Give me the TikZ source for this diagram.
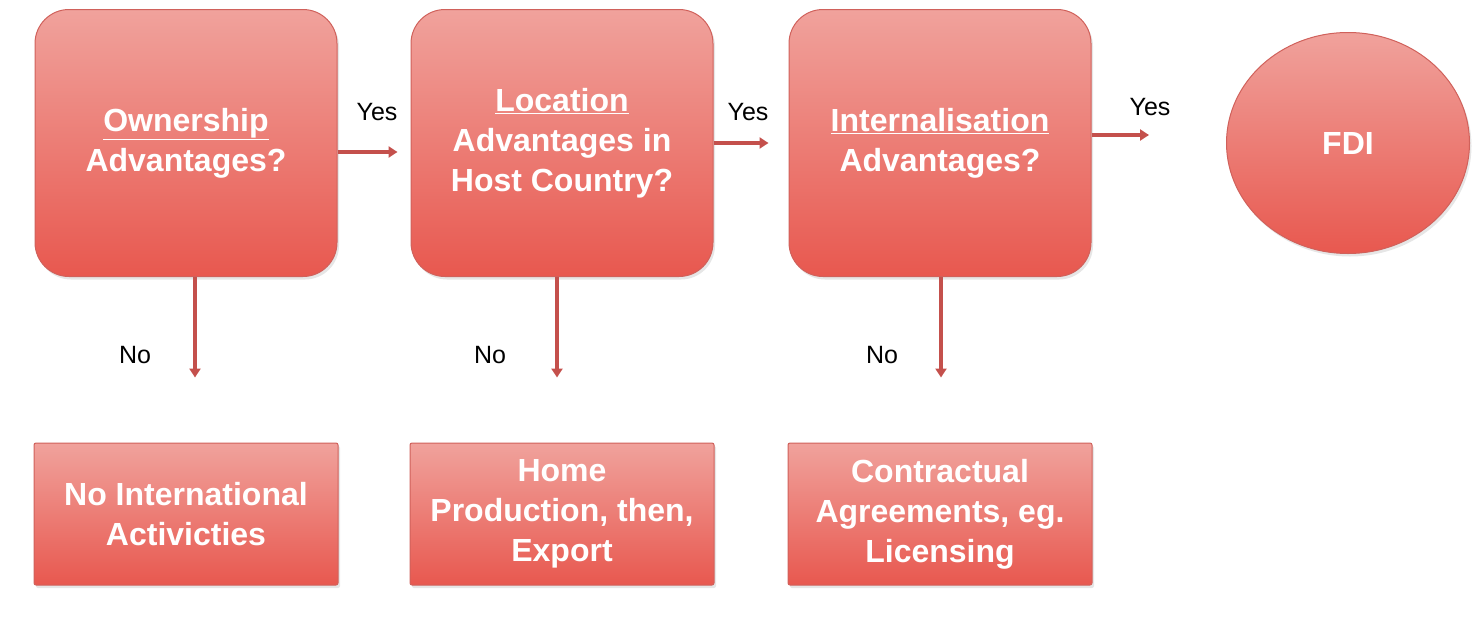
\documentclass[tikz,border=0pt]{standalone}
\usepackage{fontspec}
\setmainfont{Liberation Sans}
\usetikzlibrary{positioning,shapes.geometric,shadows,arrows.meta}
\definecolor{boxtop}{HTML}{F0A29C}
\definecolor{boxbot}{HTML}{E8584F}
\definecolor{boxline}{HTML}{D0615B}
\definecolor{arrred}{HTML}{C4504C}

\begin{document}
\begin{tikzpicture}[x=1pt,y=-1pt]
  \tikzstyle{ask node}=[rectangle,rounded corners=34,draw=boxline,line width=1pt,
    top color=boxtop,bottom color=boxbot,minimum width=302,minimum height=267,
    inner sep=0,align=center,text=white,font=\fontsize{32}{40}\selectfont\bfseries,
    drop shadow={opacity=0.2,shadow xshift=2pt,shadow yshift=-3pt}]
  \tikzstyle{end node}=[ask node,rounded corners=2,minimum width=304,minimum height=142]
  \tikzstyle{fdi node}=[ellipse,draw=boxline,line width=1pt,top color=boxtop,
    bottom color=boxbot,minimum width=243,minimum height=221,inner sep=0,
    text=white,font=\fontsize{32}{40}\selectfont\bfseries,
    drop shadow={opacity=0.2,shadow xshift=2pt,shadow yshift=-3pt}]
  \tikzstyle{arr}=[draw=arrred,line width=4pt,-{Triangle[length=9pt,width=11pt]}]
  \tikzstyle{lab}=[font=\fontsize{25}{30}\selectfont,inner sep=0]
  \useasboundingbox (0,0) rectangle (1475,624);
  % top row
  \node(own)[ask node] at (186,143){\underline{Ownership}\\Advantages?};
  \node(loc)[ask node,right=73 of own]{\underline{Location}\\Advantages in\\Host Country?};
  \node(int)[ask node,right=75 of loc]{\underline{Internalisation}\\Advantages?};
  \node(fdi)[fdi node] at (1348,143){FDI};
  % bottom row
  \node(none)[end node] at (own |- 0,514){No International\\Activicties};
  \node(exp)[end node] at (loc |- 0,514){Home\\Production, then,\\Export};
  \node(lic)[end node] at (int |- 0,514){Contractual\\Agreements, eg.\\Licensing};
  % yes
  \draw[arr] ([yshift=-9pt]own.east) -- ([xshift=-13pt,yshift=-9pt]loc.west);
  \draw[arr] (loc.east) -- ([xshift=-20pt]int.west);
  \draw[arr] ([yshift=8pt]int.east) -- ([xshift=-77pt,yshift=8pt]fdi.west);
  \node(y1)[lab] at (377,112){Yes};
  \node(y2)[lab] at (748,112){Yes};
  \node(y3)[lab] at (1150,107){Yes};
  % no
  \draw[arr] ([xshift=9pt]own.south) -- ([xshift=9pt,yshift=65pt]none.north);
  \draw[arr] ([xshift=-5pt]loc.south) -- ([xshift=-5pt,yshift=65pt]exp.north);
  \draw[arr] ([xshift=1pt]int.south) -- ([xshift=1pt,yshift=65pt]lic.north);
  \node(n1)[lab] at (135,355){No};
  \node(n2)[lab] at (490,355){No};
  \node(n3)[lab] at (882,355){No};
\end{tikzpicture}
\end{document}
